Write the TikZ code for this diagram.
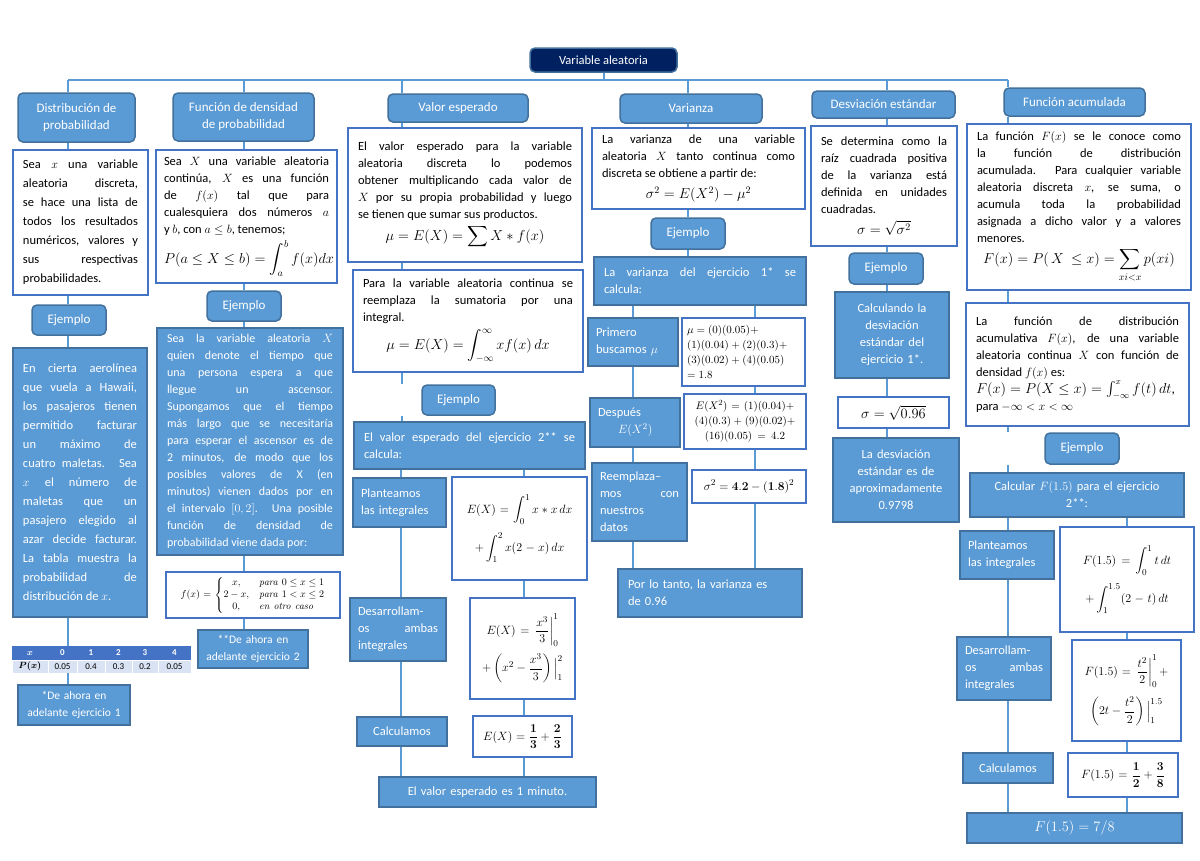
\documentclass[tikz,border=0pt]{standalone}
\usepackage{amsmath}
\usepackage[no-math]{fontspec}
\setmainfont{Carlito}
\definecolor{midblue}{HTML}{5B9BD5}
\definecolor{edgeblue}{HTML}{41719C}
\definecolor{boxblue}{HTML}{4472C4}
\definecolor{navy}{HTML}{002060}
\definecolor{rowblue}{HTML}{DAE3F3}
\newcommand\fmla{\fontsize{14}{19}\selectfont}
\newcommand\fline[1]{\par\vspace{4pt}\noindent\hspace*{\fill}\mbox{#1}\hspace*{\fill}\null}
\begin{document}
\begin{tikzpicture}[x=1pt,y=-1pt,
  conn/.style={draw=midblue,line width=2pt},
  sz/.style 2 args={text width=#1,minimum height=#2},
  wh/.style 2 args={minimum width=#1,minimum height=#2},
  hdr/.style={rounded corners=5pt,fill=midblue,draw=edgeblue,line width=1.5pt,text=white,align=center,inner sep=2pt,font=\fontsize{13}{17}\selectfont},
  wbox/.style={fill=white,draw=boxblue,line width=1.5pt,align=justify,inner xsep=10pt,inner ysep=3pt,font=\fontsize{12.5}{17}\selectfont},
  bbox/.style={fill=midblue,draw=edgeblue,line width=1.5pt,text=white,align=justify,inner xsep=10pt,inner ysep=3pt,font=\fontsize{12.5}{17}\selectfont}]
\fill[white](0,0)rectangle(1200,860);
\useasboundingbox(0,0)rectangle(1200,860);
\coordinate(bus)at(0,80);
\coordinate(c1)at(68,0);
\coordinate(c2)at(244,0);
\coordinate(c3)at(463,0);
\coordinate(c4)at(688,0);
\coordinate(c5)at(887,0);
\coordinate(c6)at(1083,0);
\coordinate(sl3)at(401,0);
\coordinate(sr3)at(524,0);
\coordinate(sl4)at(633,0);
\coordinate(sr4)at(755,0);
\coordinate(sl6)at(1008,0);
\coordinate(sr6)at(1127,0);

\node[hdr,fill=navy,wh={147pt}{24pt},font=\fontsize{12.5}{15}\selectfont](top)at(603.5,60){Variable aleatoria};

% distribucion
\node[hdr,wh={117pt}{49pt}](h1)at(76.5,117.5){Distribución de\\probabilidad};
\node[wbox,sz={115pt}{145pt},font=\fontsize{12.5}{19}\selectfont](w1)at(80.5,222.5){Sea $x$ una variable\linebreak aleatoria discreta,\linebreak se hace una lista de\linebreak todos los resultados\linebreak numéricos, valores y\linebreak sus respectivas\linebreak probabilidades.};
\node[hdr,wh={74pt}{30pt}](e1)at(69,320){Ejemplo};
\node[bbox,sz={114pt}{269pt},font=\fontsize{12.5}{19}\selectfont](b1)at(80,482.5){En cierta aerolínea\linebreak que vuela a Hawaii,\linebreak los pasajeros tienen\linebreak permitido facturar\linebreak un máximo de\linebreak cuatro maletas. Sea\linebreak $x$ el número de\linebreak maletas que un\linebreak pasajero elegido al\linebreak azar decide facturar.\linebreak La tabla muestra la\linebreak probabilidad de\linebreak distribución de $x$.};
\node[minimum width=179pt,minimum height=27pt,inner sep=0pt](tab)at(101.5,659.5){};
\fill[boxblue](12,646)rectangle(191,660);
\foreach \xa/\xb/\hd/\pv in {12/48/{$\boldsymbol{x}$}/{$\boldsymbol{P(x)}$},48/77/0/0.05,77/105/1/0.4,105/132/2/0.3,132/158/3/0.2,158/191/4/0.05}{
  \draw[fill=rowblue,draw=white,line width=1pt](\xa,660)rectangle(\xb,673);
  \node[text=white,font=\bfseries\fontsize{9}{10}\selectfont](th\xa)at({(\xa+\xb)/2},653){\hd};
  \node[font=\fontsize{9}{10}\selectfont](td\xa)at({(\xa+\xb)/2},666.5){\pv};
}
\node[bbox,align=center,sz={104pt}{40pt},inner xsep=4pt,font=\fontsize{11.5}{17}\selectfont](n1)at(74,705){*De ahora en\\adelante ejercicio 1};

% densidad
\node[hdr,wh={141pt}{48pt}](h2)at(243.5,117){Función de densidad\\de probabilidad};
\node[wbox,sz={165pt}{133pt},inner xsep=8pt](w2)at(246.5,216.5){Sea $X$ una variable aleatoria\linebreak continúa, $X$ es una función\linebreak de $f(x)$ tal que para\linebreak cualesquiera dos números $a$\linebreak y $b$, con $a\le b$, tenemos;\fline{\fmla$P(a\le X\le b)=\displaystyle\int_a^b f(x)dx$}};
\node[hdr,wh={74pt}{30pt}](e2)at(244,306){Ejemplo};
\node[bbox,sz={166pt}{227pt},font=\fontsize{12}{17}\selectfont](b2)at(250,441.5){Sea la variable aleatoria $X$\linebreak quien denote el tiempo que\linebreak una persona espera a que\linebreak llegue un ascensor.\linebreak Supongamos que el tiempo\linebreak más largo que se necesitaría\linebreak para esperar el ascensor es de\linebreak 2 minutos, de modo que los\linebreak posibles valores de X (en\linebreak minutos) vienen dados por en\linebreak el intervalo $[0,2]$. Una posible\linebreak función de densidad de\linebreak probabilidad viene dada por:};
\node[wbox,align=center,sz={154pt}{46pt},font=\fontsize{10}{12}\selectfont](f2)at(253,595){$f(x)=\left\{\begin{array}{@{}c@{\quad}l@{}}x, & \mathit{para}\ 0\le x\le 1\\ 2-x, & \mathit{para}\ 1<x\le 2\\ 0, & \mathit{en\ otro\ caso}\end{array}\right.$};
\node[bbox,align=center,sz={100pt}{38pt},inner xsep=5pt,font=\fontsize{11.5}{17}\selectfont](n2)at(253,649){**De ahora en\\adelante ejercicio 2};

% valor esperado
\node[hdr,wh={140pt}{28pt}](h3)at(458,108){Valor esperado};
\node[wbox,sz={214pt}{134pt}](w3a)at(465,195){El valor esperado para la variable\linebreak aleatoria discreta lo podemos\linebreak obtener multiplicando cada valor de\linebreak $X$ por su propia probabilidad y luego\linebreak se tienen que sumar sus productos.\fline{\fmla$\mu=E(X)=\displaystyle\sum X*f(x)$}};
\node[wbox,sz={210pt}{102pt}](w3b)at(468,321){Para la variable aleatoria continua se\linebreak reemplaza la sumatoria por una\linebreak integral.\fline{\fmla$\mu=E(X)=\displaystyle\int_{-\infty}^{\infty}xf(x)\,dx$}};
\node[hdr,wh={73pt}{30pt}](e3)at(458.5,400){Ejemplo};
\node[bbox,sz={211pt}{47pt}](b3)at(469.5,445.5){El valor esperado del ejercicio 2** se\linebreak calcula:};
\node[bbox,align=left,sz={77pt}{49pt},inner xsep=8pt](p3)at(399.5,502.5){Planteamos\\las integrales};
\node[wbox,align=center,sz={115pt}{103pt}](i3)at(519.5,528.5){$E(X)=\displaystyle\int_0^1 x*x\,dx$\\[8pt]$+\displaystyle\int_1^2 x(2-x)\,dx$};
\node[bbox,sz={80pt}{63pt},inner xsep=8pt](d3)at(398,629.5){Desarrollam-\\os\hfill ambas\\integrales};
\node[wbox,align=center,sz={89pt}{101pt},inner xsep=8pt](j3)at(522.5,648.5){$E(X)=\left.\dfrac{x^3}{3}\right|_0^1$\\[6pt]$+\left(x^2-\dfrac{x^3}{3}\right)\Big|_1^2$};
\node[bbox,align=center,sz={74pt}{29pt},inner xsep=8pt](c3)at(402,731.5){Calculamos};
\node[wbox,align=center,sz={83pt}{41pt},inner xsep=8pt](k3)at(522.5,736.5){$E(X)=\dfrac{\mathbf{1}}{\mathbf{3}}+\dfrac{\mathbf{2}}{\mathbf{3}}$};
\node[bbox,align=center,sz={197pt}{30pt}](r3)at(487.5,792){El valor esperado es 1 minuto.};

% varianza
\node[hdr,wh={142pt}{29pt}](h4)at(691,108.5){Varianza};
\node[wbox,sz={193pt}{81pt}](w4)at(698.5,168.5){La varianza de una variable\linebreak aleatoria $X$ tanto continua como\linebreak discreta se obtiene a partir de:\fline{\fmla$\sigma^2=E(X^2)-\mu^2$}};
\node[hdr,wh={74pt}{31pt}](e4)at(688,233.5){Ejemplo};
\node[bbox,sz={192pt}{48pt}](b4)at(700,281){La varianza del ejercicio 1* se\linebreak calcula:};
\node[bbox,align=left,sz={74pt}{48pt},inner xsep=8pt](p4)at(633,342){Primero\\buscamos $\mu$};
\node[wbox,align=left,sz={113pt}{68pt},inner xsep=5pt,font=\fontsize{11}{15}\selectfont](m4)at(743.5,352){$\mu=(0)(0.05)+$\\$(1)(0.04)+(2)(0.3)+$\\$(3)(0.02)+(4)(0.05)$\\$=1.8$};
\node[bbox,align=left,sz={74pt}{49pt},inner xsep=8pt](d4)at(635,422.5){Después\\\hspace*{1.6em}$E(X^2)$};
\node[wbox,align=center,sz={112pt}{55pt},inner xsep=5pt,font=\fontsize{11}{15}\selectfont](x4)at(745,421.5){$E(X^2)=(1)(0.04)+$\\$(4)(0.3)+(9)(0.02)+$\\$(16)(0.05)=4.2$};
\node[bbox,sz={79pt}{78pt},inner xsep=8pt](q4)at(639.5,502){Reemplaza--\\mos\hfill con\\nuestros\\datos};
\node[wbox,align=center,sz={104pt}{33pt},inner xsep=5pt](s4)at(749,486.5){\mbox{$\sigma^2=\mathbf{4.2}-(\mathbf{1.8})^2$}};
\node[bbox,align=left,sz={164pt}{48pt}](r4)at(710,593){Por lo tanto, la varianza es\\de 0.96};

% desviacion
\node[hdr,wh={143pt}{27pt}](h5)at(883.5,104.5){Desviación estándar};
\node[wbox,sz={126pt}{120pt}](w5)at(884,186){Se determina como la\linebreak raíz cuadrada positiva\linebreak de la varianza está\linebreak definida en unidades\linebreak cuadradas.\fline{\fmla$\sigma=\sqrt{\sigma^2}$}};
\node[hdr,wh={74pt}{31pt}](e5)at(886,268.5){Ejemplo};
\node[bbox,align=center,sz={94pt}{86pt}](b5)at(892,335){Calculando la\\desviación\\estándar del\\ejercicio 1*.};
\node[wbox,align=center,sz={91pt}{31pt}](s5)at(893.5,412.5){\fmla\mbox{$\sigma=\sqrt{0.96}$}};
\node[bbox,align=center,sz={106pt}{84pt}](r5)at(896,480){La desviación\\estándar es de\\aproximadamente\\0.9798};

% acumulada
\node[hdr,wh={141pt}{28pt}](h6)at(1074.5,102){Función acumulada};
\node[wbox,sz={204pt}{166pt}](w6a)at(1079,207){La función $F(x)$ se le conoce como\linebreak la función de distribución\linebreak acumulada. Para cualquier variable\linebreak aleatoria discreta $x$, se suma, o\linebreak acumula toda la probabilidad\linebreak asignada a dicho valor y a valores\linebreak menores.\fline{\fmla$F(x)=P(\,X\ \le x)=\displaystyle\sum_{xi<x}p(xi)$}};
\node[wbox,sz={203pt}{123pt}](w6b)at(1077.5,364.5){La función de distribución\linebreak acumulativa $F(x)$, de una variable\linebreak aleatoria continua $X$ con función de\linebreak densidad $f(x)$ es:\\{\fontsize{13.5}{17}\selectfont\mbox{$F(x)=P(X\le x)=\int_{-\infty}^{x}f(t)\,dt$},}\\para $-\infty<x<\infty$};
\node[hdr,wh={74pt}{31pt}](e6)at(1082,448.5){Ejemplo};
\node[bbox,align=center,sz={194pt}{44pt}](b6)at(1077,495){Calcular $F(1.5)$ para el ejercicio\\2**:};
\node[bbox,align=left,sz={78pt}{48pt},inner xsep=8pt](p6)at(1007,555){Planteamos\\las integrales};
\node[wbox,align=center,sz={114pt}{105pt}](i6)at(1127,579.5){$F(1.5)=\displaystyle\int_0^1 t\,dt$\\[8pt]$+\displaystyle\int_1^{1.5}(2-t)\,dt$};
\node[bbox,sz={78pt}{63pt},inner xsep=8pt](d6)at(1004,668.5){Desarrollam-\\os\hfill ambas\\integrales};
\node[wbox,align=center,sz={93pt}{101pt},inner xsep=8pt](j6)at(1126.5,690.5){$F(1.5)=\left.\dfrac{t^2}{2}\right|_0^1+$\\[8pt]$\left(2t-\dfrac{t^2}{2}\right)\Big|_1^{1.5}$};
\node[bbox,align=center,sz={74pt}{30pt},inner xsep=8pt](c6)at(1008,768){Calculamos};
\node[wbox,align=center,sz={94pt}{44pt},inner xsep=8pt](k6)at(1123,775){$F(1.5)=\dfrac{\mathbf{1}}{\mathbf{2}}+\dfrac{\mathbf{3}}{\mathbf{8}}$};
\node[bbox,align=center,sz={195pt}{30pt}](r6)at(1074.5,828){\fmla\mbox{$F(1.5)=7/8$}};

% lines
\draw[conn](c1|-bus)--(c6|-bus);
\draw[conn](top.south)--(top.south|-bus);
\draw[conn](c1|-bus)--(h1.north-|c1)(h1.south-|c1)--(w1.north-|c1)(w1.south-|c1)--(e1.north-|c1)(e1.south-|c1)--(b1.north-|c1)(b1.south-|c1)--(tab.north-|c1)(tab.south-|c1)--(n1.north-|c1);
\draw[conn](c2|-bus)--(h2.north-|c2)(h2.south-|c2)--(w2.north-|c2)(w2.south-|c2)--(e2.north-|c2)(e2.south-|c2)--(b2.north-|c2)(b2.south-|c2)--(f2.north-|c2)(f2.south-|c2)--(n2.north-|c2);
\draw[conn](c3|-bus)--(h3.north-|c3)(h3.south-|c3)--(w3a.north-|c3)(w3a.south-|c3)--(w3b.north-|c3)(w3b.south-|c3)--(e3.north-|c3)(e3.south-|c3)--(b3.north-|c3);
\draw[conn](b3.south-|sl3)--(p3.north-|sl3)(p3.south-|sl3)--(d3.north-|sl3)(d3.south-|sl3)--(c3.north-|sl3)(c3.south-|sl3)--(r3.north-|sl3);
\draw[conn](b3.south-|sr3)--(i3.north-|sr3)(i3.south-|sr3)--(j3.north-|sr3)(j3.south-|sr3)--(k3.north-|sr3)(k3.south-|sr3)--(r3.north-|sr3);
\draw[conn](c4|-bus)--(h4.north-|c4)(h4.south-|c4)--(w4.north-|c4)(w4.south-|c4)--(e4.north-|c4)(e4.south-|c4)--(b4.north-|c4);
\draw[conn](b4.south-|sl4)--(p4.north-|sl4)(p4.south-|sl4)--(d4.north-|sl4)(d4.south-|sl4)--(q4.north-|sl4)(q4.south-|sl4)--(r4.north-|sl4);
\draw[conn](b4.south-|sr4)--(m4.north-|sr4)(m4.south-|sr4)--(x4.north-|sr4)(x4.south-|sr4)--(s4.north-|sr4)(s4.south-|sr4)--(r4.north-|sr4);
\draw[conn](c5|-bus)--(h5.north-|c5)(h5.south-|c5)--(w5.north-|c5)(w5.south-|c5)--(e5.north-|c5)(e5.south-|c5)--(b5.north-|c5)(b5.south-|c5)--(s5.north-|c5)(s5.south-|c5)--(r5.north-|c5);
\draw[conn](c6|-bus)--(h6.north-|c6)(h6.south-|c6)--(w6a.north-|c6)(w6a.south-|c6)--(w6b.north-|c6)(w6b.south-|c6)--(e6.north-|c6)(e6.south-|c6)--(b6.north-|c6);
\draw[conn](b6.south-|sl6)--(p6.north-|sl6)(p6.south-|sl6)--(d6.north-|sl6)(d6.south-|sl6)--(c6.north-|sl6)(c6.south-|sl6)--(r6.north-|sl6);
\draw[conn](b6.south-|sr6)--(i6.north-|sr6)(i6.south-|sr6)--(j6.north-|sr6)(j6.south-|sr6)--(k6.north-|sr6)(k6.south-|sr6)--(r6.north-|sr6);
\end{tikzpicture}
\end{document}
